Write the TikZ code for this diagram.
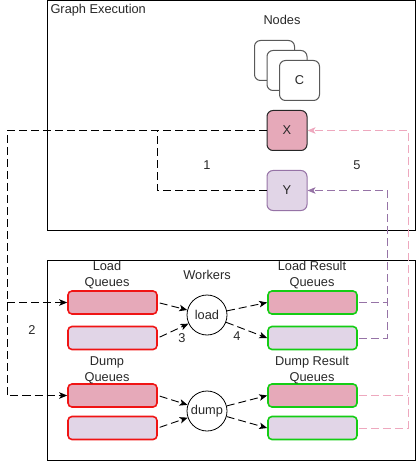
\documentclass[tikz,border=0pt]{standalone}
\usepackage{fontspec}
\setmainfont{Liberation Sans}
\usetikzlibrary{arrows.meta}
\definecolor{pinkfill}{RGB}{230,169,185}
\definecolor{purplefill}{RGB}{225,213,231}
\definecolor{purpleline}{RGB}{150,115,166}
\definecolor{pinkline}{RGB}{238,168,190}
\definecolor{qred}{RGB}{240,20,20}
\definecolor{qgreen}{RGB}{20,205,20}
\definecolor{txt}{RGB}{40,40,40}
\tikzset{
  every node/.style={font=\fontsize{12.8}{16}\selectfont, text=txt},
  frame/.style={draw=black, line width=1pt},
  stackbox/.style={draw=black!65, fill=white, rounded corners=6pt, line width=1pt, minimum width=40pt, minimum height=40pt, inner sep=0pt},
  xnode/.style={draw=black!85, fill=pinkfill, rounded corners=6pt, line width=1pt, minimum width=40pt, minimum height=40pt, inner sep=0pt},
  ynode/.style={draw=purpleline, fill=purplefill, rounded corners=6pt, line width=1pt, minimum width=40pt, minimum height=40pt, inner sep=0pt},
  queue/.style={rounded corners=4pt, line width=1.6pt, minimum width=89pt, minimum height=23pt, inner sep=0pt},
  inq/.style={queue, draw=qred},
  outq/.style={queue, draw=qgreen},
  worker/.style={circle, draw=black, line width=0.8pt, minimum size=40pt, inner sep=0pt},
  flow/.style={draw=black, line width=0.9pt, dash pattern=on 8pt off 4pt},
  tip/.style={-{Stealth[length=8pt,width=6.5pt,inset=2pt]}},
  pinkflow/.style={draw=pinkline, line width=0.9pt, dash pattern=on 8pt off 4pt},
  purpflow/.style={draw=purpleline, line width=0.9pt, dash pattern=on 8pt off 4pt},
}
\begin{document}
\begin{tikzpicture}[x=1pt, y=-1pt]
\useasboundingbox (0,0) rectangle (418,462);
% frames
\draw[frame] (47,1) rectangle (415,230);
\draw[frame] (47,260) rectangle (415,460);
\node[anchor=west] (ge) at (47,10) {Graph Execution};
\node (nodes) at (282,20) {Nodes};
% stacked nodes
\node[stackbox] (c1) at (274.5,60.5) {};
\node[stackbox] (c2) at (287,70.5) {};
\node[stackbox] (c3) at (299.5,80.5) {C};
\node[xnode] (X) at (287,130.5) {X};
\node[ynode] (Y) at (287,190.5) {Y};
% queues
\node[inq, fill=pinkfill] (lq1) at (112.5,302.5) {};
\node[inq, fill=purplefill] (lq2) at (112.5,338) {};
\node[inq, fill=pinkfill] (dq1) at (112.5,395.5) {};
\node[inq, fill=purplefill] (dq2) at (112.5,428) {};
\node[outq, fill=pinkfill] (lr1) at (312.5,302.5) {};
\node[outq, fill=purplefill] (lr2) at (312.5,338) {};
\node[outq, fill=pinkfill] (dr1) at (312.5,395.5) {};
\node[outq, fill=purplefill] (dr2) at (312.5,428) {};
\node[worker] (load) at (207,315) {load};
\node[worker] (dump) at (207,411) {dump};
% labels
\node[align=center] (lql) at (107,275) {Load\\Queues};
\node[align=center] (dql) at (107,370) {Dump\\Queues};
\node (wl) at (207,275) {Workers};
\node[align=center] (lrl) at (312,275) {Load Result\\Queues};
\node[align=center] (drl) at (312,370) {Dump Result\\Queues};
\node (n1) at (207,165) {1};
\node (n5) at (357,165) {5};
\node (n2) at (32,330) {2};
\node (n3) at (182,338) {3};
\node (n4) at (237,336) {4};
% corner coordinates
\coordinate (tl) at (7,130.5);
\coordinate (yj) at (157,130.5);
\coordinate (pk) at (408,130.5);
\coordinate (pp) at (387,190.5);
\coordinate (lqj) at (7,302.5);
\coordinate (lrj) at (387,302.5);
\coordinate (drj) at (408,395.5);
% dispatch edges
\draw[flow, tip] (X.west) -- (tl) |- (dq1.west);
\draw[flow, tip] (lqj) -- (lq1.west);
\draw[flow] (Y.west) -| (yj);
% worker edges
\draw[flow, tip, shorten <=2pt] (lq1.east) -- (load);
\draw[flow, tip, shorten <=2pt] (lq2.east) -- (load);
\draw[flow, tip, shorten <=2pt] (dq1.east) -- (dump);
\draw[flow, tip, shorten <=2pt] (dq2.east) -- (dump);
\draw[flow, tip] (load) -- (lr1.west);
\draw[flow, tip] (load) -- (lr2.west);
\draw[flow, tip] (dump) -- (dr1.west);
\draw[flow, tip] (dump) -- (dr2.west);
% result edges
\draw[purpflow, tip, shorten <=1pt] (lr2.east) -| (pp) -- (Y.east);
\draw[purpflow, shorten <=1pt] (lr1.east) -- (lrj);
\draw[pinkflow, tip, shorten <=1pt] (dr2.east) -| (pk) -- (X.east);
\draw[pinkflow, shorten <=1pt] (dr1.east) -- (drj);
\end{tikzpicture}
\end{document}
